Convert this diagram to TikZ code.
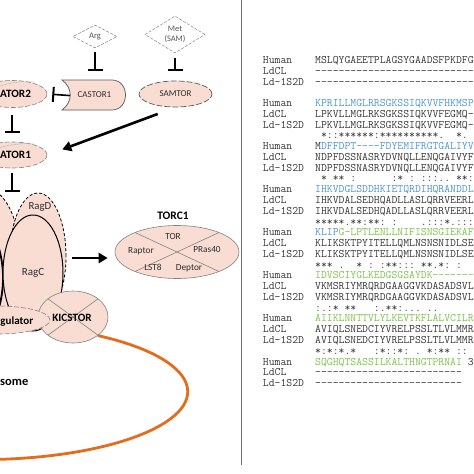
\documentclass[tikz,border=0pt]{standalone}
\usepackage{fontspec}
\setmainfont{Carlito}
\usetikzlibrary{shapes.geometric,arrows.meta,calc}
\newcommand\myfs[1]{\fontsize{#1}{#1}\selectfont}
\definecolor{pinkf}{RGB}{249,221,211}
\definecolor{edgeg}{RGB}{130,130,130}
\definecolor{lyso}{RGB}{228,108,30}
\definecolor{seqblue}{RGB}{80,150,205}
\definecolor{seqgreen}{RGB}{125,195,75}
\definecolor{seqtext}{RGB}{55,55,55}
\definecolor{darkt}{RGB}{45,45,45}
\begin{document}
\begin{tikzpicture}[x=1pt,y=-1pt,
  pinkell/.style={ellipse, fill=pinkf, inner sep=0pt},
  grayedge/.style={draw=edgeg, line width=0.6pt, dash pattern=on 5pt off 2pt},
  solidedge/.style={draw=edgeg, line width=0.6pt},
  molec/.style={diamond, draw=edgeg, line width=0.5pt, dash pattern=on 3pt off 1.5pt, fill=white, inner sep=0pt, font={\myfs{8.6}}, text=darkt!80},
  inh/.style={line width=1.6pt, -{Bar[width=15pt,line width=2pt]}},
  act/.style={line width=2.6pt, -{Triangle[length=9pt,width=10pt]}},
  bold/.style={font={\bfseries\myfs{11.2}}, text=black},
  reg/.style={font={\myfs{9}}, text=darkt},
  small/.style={font={\myfs{9.3}}, text=darkt},
  lab/.style={anchor=base west, font={\ttfamily\myfs{11.4}}, text=seqtext, inner sep=0pt},
  seq/.style={anchor=base west, font={\ttfamily\myfs{11.4}}, text=seqtext, inner sep=0pt}]
\useasboundingbox (0,0) rectangle (474,474);
\begin{scope}
\clip (0,0) rectangle (474,474);
% ---------------- left panel ----------------
\node[molec, minimum width=44pt, minimum height=23pt] (arg) at (95,36.5) {Arg};
\node[molec, minimum width=60pt, minimum height=25pt, align=center, font={\fontsize{8.4}{9.5}\selectfont}] (met) at (175,34.5) {Met\\(SAM)};
% CASTOR1 shape
\draw[draw=darkt!80, line width=0.7pt, fill=pinkf] (62,80) -- (112,80) .. controls (130,80) and (130,110) .. (112,110) -- (62,110) .. controls (73,102) and (73,88) .. (62,80) -- cycle;
\node[reg, minimum width=65pt, minimum height=30pt, inner sep=0pt] (castor) at (94.5,95) {CASTOR1};
\node[pinkell, draw=darkt!80, line width=0.7pt, dash pattern=on 6pt off 2pt, minimum width=73pt, minimum height=26pt, reg] (samtor) at (175.5,94) {SAMTOR};
\node[pinkell, grayedge, minimum width=70pt, minimum height=27pt, bold] (gator2) at (12,94) {GATOR2};
\node[pinkell, grayedge, minimum width=70pt, minimum height=26pt, bold] (gator1) at (12,155) {GATOR1};
\draw[draw=edgeg!60, line width=0.4pt] (-10,90) .. controls (8,82) and (22,81) .. (34,82);
\draw[draw=edgeg!60, line width=0.4pt] (-10,151) .. controls (8,144) and (22,143) .. (34,144);
% inhibitions
\draw[inh, shorten <=4pt, shorten >=9pt] (arg.south) -- (arg.south |- castor.north);
\draw[inh, shorten <=5pt, shorten >=10pt] (met.south) -- (met.south |- samtor.north);
\draw[inh, shorten <=-8pt, shorten >=5pt] (castor.west) -- (gator2.east);
\draw[inh, shorten <=7.5pt, shorten >=9pt] (gator2.south) -- (gator1.north);
\coordinate (ragv) at (12,200);
\draw[inh, shorten <=5pt, shorten >=8pt] (gator1.south) -- (ragv);
\draw[act, shorten <=19pt, shorten >=16pt] (samtor.south) -- (gator1.east);
% Rag heterodimers
\node[pinkell, draw=black, line width=0.8pt, dash pattern=on 3pt off 2pt, minimum width=70pt, minimum height=140pt] (ragb) at (-15,258) {};
\node[pinkell, draw=black, line width=0.8pt, dash pattern=on 3pt off 2pt, minimum width=56pt, minimum height=126pt] (ragd) at (38,256) {};
\node[pinkell, draw=black, line width=1.8pt, minimum width=62pt, minimum height=120pt] (raga) at (-28,278) {};
\node[pinkell, draw=black, line width=1pt, minimum width=60pt, minimum height=116pt, font={\myfs{11}}, text=darkt] (ragc) at (33,273) {RagC};
\node[font={\myfs{10.8}}, text=darkt] (ragdl) at (40,207) {RagD};
% KICSTOR
\node[pinkell, solidedge, minimum width=70pt, minimum height=52pt] (kicstor) at (73,317) {};
\draw[solidedge] (48,298.8) -- (98,335.2);
\draw[solidedge] (98,298.8) -- (48,335.2);
\node[bold] (kicl) at (72,318) {KICSTOR};
% Ragulator
\node[pinkell, grayedge, minimum width=104pt, minimum height=28pt] (ragulator) at (-2,320) {};
\node[bold, font={\bfseries\myfs{11}}] (ragl) at (11,322) {Ragulator};
% lysosome
\draw[lyso, line width=2.8pt] (kicstor.south east) arc[start angle=55.5, end angle=-100, x radius=207pt, y radius=68pt];
\node[bold, font={\bfseries\myfs{12.5}}, anchor=east, inner sep=0pt] (lysol) at (28.5,382) {Lysosome};
% TORC1
\node[bold, font={\bfseries\myfs{11.5}}] (torct) at (173,216) {TORC1};
\node[pinkell, solidedge, minimum width=124pt, minimum height=53pt] (torc) at (177,252) {};
\draw[solidedge] (135,232.5) -- (219,271.5);
\draw[solidedge] (219,232.5) -- (135,271.5);
\node[small] (tor) at (173,237) {TOR};
\node[small] (raptor) at (141,251) {Raptor};
\node[small] (pras) at (207,250) {PRas40};
\node[small] (lst) at (153,267) {LST8};
\node[small] (deptor) at (189,268) {Deptor};
\coordinate (ragarrow) at (72,258);
\draw[act, shorten >=7pt] (ragarrow) -- (ragarrow -| torc.west);
% divider
\draw[draw=darkt!70, line width=1pt] (241.5,0) -- (241.5,465);
% ---------------- right panel: alignment ----------------
\node[lab] (l0a) at (262.7,63.5) {Human};
\node[lab] (l0b) at (262.7,74.27) {LdCL};
\node[lab] (l0c) at (262.7,85.04) {Ld-1S2D};
\node[seq] (s0a) at (315,63.5) {MSLQYGAEETPLAGSYGAADSFPKDFGQ};
\node[seq] (s0b) at (315,74.27) {----------------------------};
\node[seq] (s0c) at (315,85.04) {----------------------------};
%
\node[lab] (l1a) at (262.7,106.58) {Human};
\node[lab] (l1b) at (262.7,117.35) {LdCL};
\node[lab] (l1c) at (262.7,128.12) {Ld-1S2D};
\node[seq, text=seqblue] (s1a) at (315,106.58) {KPRILLMGLRRSGKSSIQKVVFHKMSP};
\node[seq] (s1b) at (315,117.35) {LPKVLLMGLRKSGKSSIQKVVFEGMQ-};
\node[seq] (s1c) at (315,128.12) {LPKVLLMGLRKSGKSSIQKVVFEGMQ-};
\node[seq] (s1d) at (315,138.89) {~*::******:**********.~~*.};
%
\node[lab] (l2a) at (262.7,149.66) {Human};
\node[lab] (l2b) at (262.7,160.43) {LdCL};
\node[lab] (l2c) at (262.7,171.2) {Ld-1S2D};
\node[seq] (s2a) at (315,149.66) {M{\color{seqblue}DFFDPT----FDYEMIFRGTGALIYV}};
\node[seq] (s2b) at (315,160.43) {NDPFDSSNASRYDVNQLLENQGAIVYF};
\node[seq] (s2c) at (315,171.2) {NDPFDSSNASRYDVNQLLENQGAIVYF};
\node[seq] (s2d) at (315,181.97) {~*~**~:~~~~~~:*~:~:::..~**::*};
%
\node[lab] (l3a) at (262.7,192.74) {Human};
\node[lab] (l3b) at (262.7,203.51) {LdCL};
\node[lab] (l3c) at (262.7,214.28) {Ld-1S2D};
\node[seq, text=seqblue] (s3a) at (315,192.74) {IHKVDGLSDDHKIETQRDIHQRANDDL};
\node[seq] (s3b) at (315,203.51) {IHKVDALSEDHQADLLASLQRRVEERL};
\node[seq] (s3c) at (315,214.28) {IHKVDALSEDHQADLLASLQRRVEERL};
\node[seq] (s3d) at (315,225.05) {*****.**:**:~:~~~~.:::*.:::};
%
\node[lab] (l4a) at (262.7,235.82) {Human};
\node[lab] (l4b) at (262.7,246.59) {LdCL};
\node[lab] (l4c) at (262.7,257.36) {Ld-1S2D};
\node[seq] (s4a) at (315,235.82) {{\color{seqblue}KLIP}{\color{seqgreen}G-LPTLENLLNIFISNSGIEKAF}};
\node[seq] (s4b) at (315,246.59) {KLIKSKTPYITELLQMLNSNSNIDLSE};
\node[seq] (s4c) at (315,257.36) {KLIKSKTPYITELLQMLNSNSNIDLSE};
\node[seq] (s4d) at (315,268.13) {***~.~~*~:~:**:::~**.*:~:};
%
\node[lab] (l5a) at (262.7,278.9) {Human};
\node[lab] (l5b) at (262.7,289.67) {LdCL};
\node[lab] (l5c) at (262.7,300.44) {Ld-1S2D};
\node[seq, text=seqgreen] (s5a) at (315,278.9) {IDVSCIYGLKEDGSGSAYDK-------};
\node[seq] (s5b) at (315,289.67) {VKMSRIYMRQRDGAAGGVKDASADSVL};
\node[seq] (s5c) at (315,300.44) {VKMSRIYMRQRDGAAGGVKDASADSVL};
\node[seq] (s5d) at (315,311.21) {:.:*~**~~~:.**:...~..};
%
\node[lab] (l6a) at (262.7,321.98) {Human};
\node[lab] (l6b) at (262.7,332.75) {LdCL};
\node[lab] (l6c) at (262.7,343.52) {Ld-1S2D};
\node[seq, text=seqgreen] (s6a) at (315,321.98) {AIIKLNNTTVLYLKEVTKFLALVCILR};
\node[seq] (s6b) at (315,332.75) {AVIQLSNEDCIYVRELPSSLTLVLMMR};
\node[seq] (s6c) at (315,343.52) {AVIQLSNEDCIYVRELPSSLTLVLMMR};
\node[seq] (s6d) at (315,354.29) {*:*:*.*~~~:*::*:~.~*:**~::};
%
\node[lab] (l7a) at (262.7,365.06) {Human};
\node[lab] (l7b) at (262.7,375.83) {LdCL};
\node[lab] (l7c) at (262.7,386.6) {Ld-1S2D};
\node[seq] (s7a) at (315,365.06) {{\color{seqgreen}SQGHQTSASSILKALTHNGTPRNAI}~329};
\node[seq] (s7b) at (315,375.83) {-------------------------};
\node[seq] (s7c) at (315,386.6) {-------------------------};
\end{scope}
\end{tikzpicture}
\end{document}
